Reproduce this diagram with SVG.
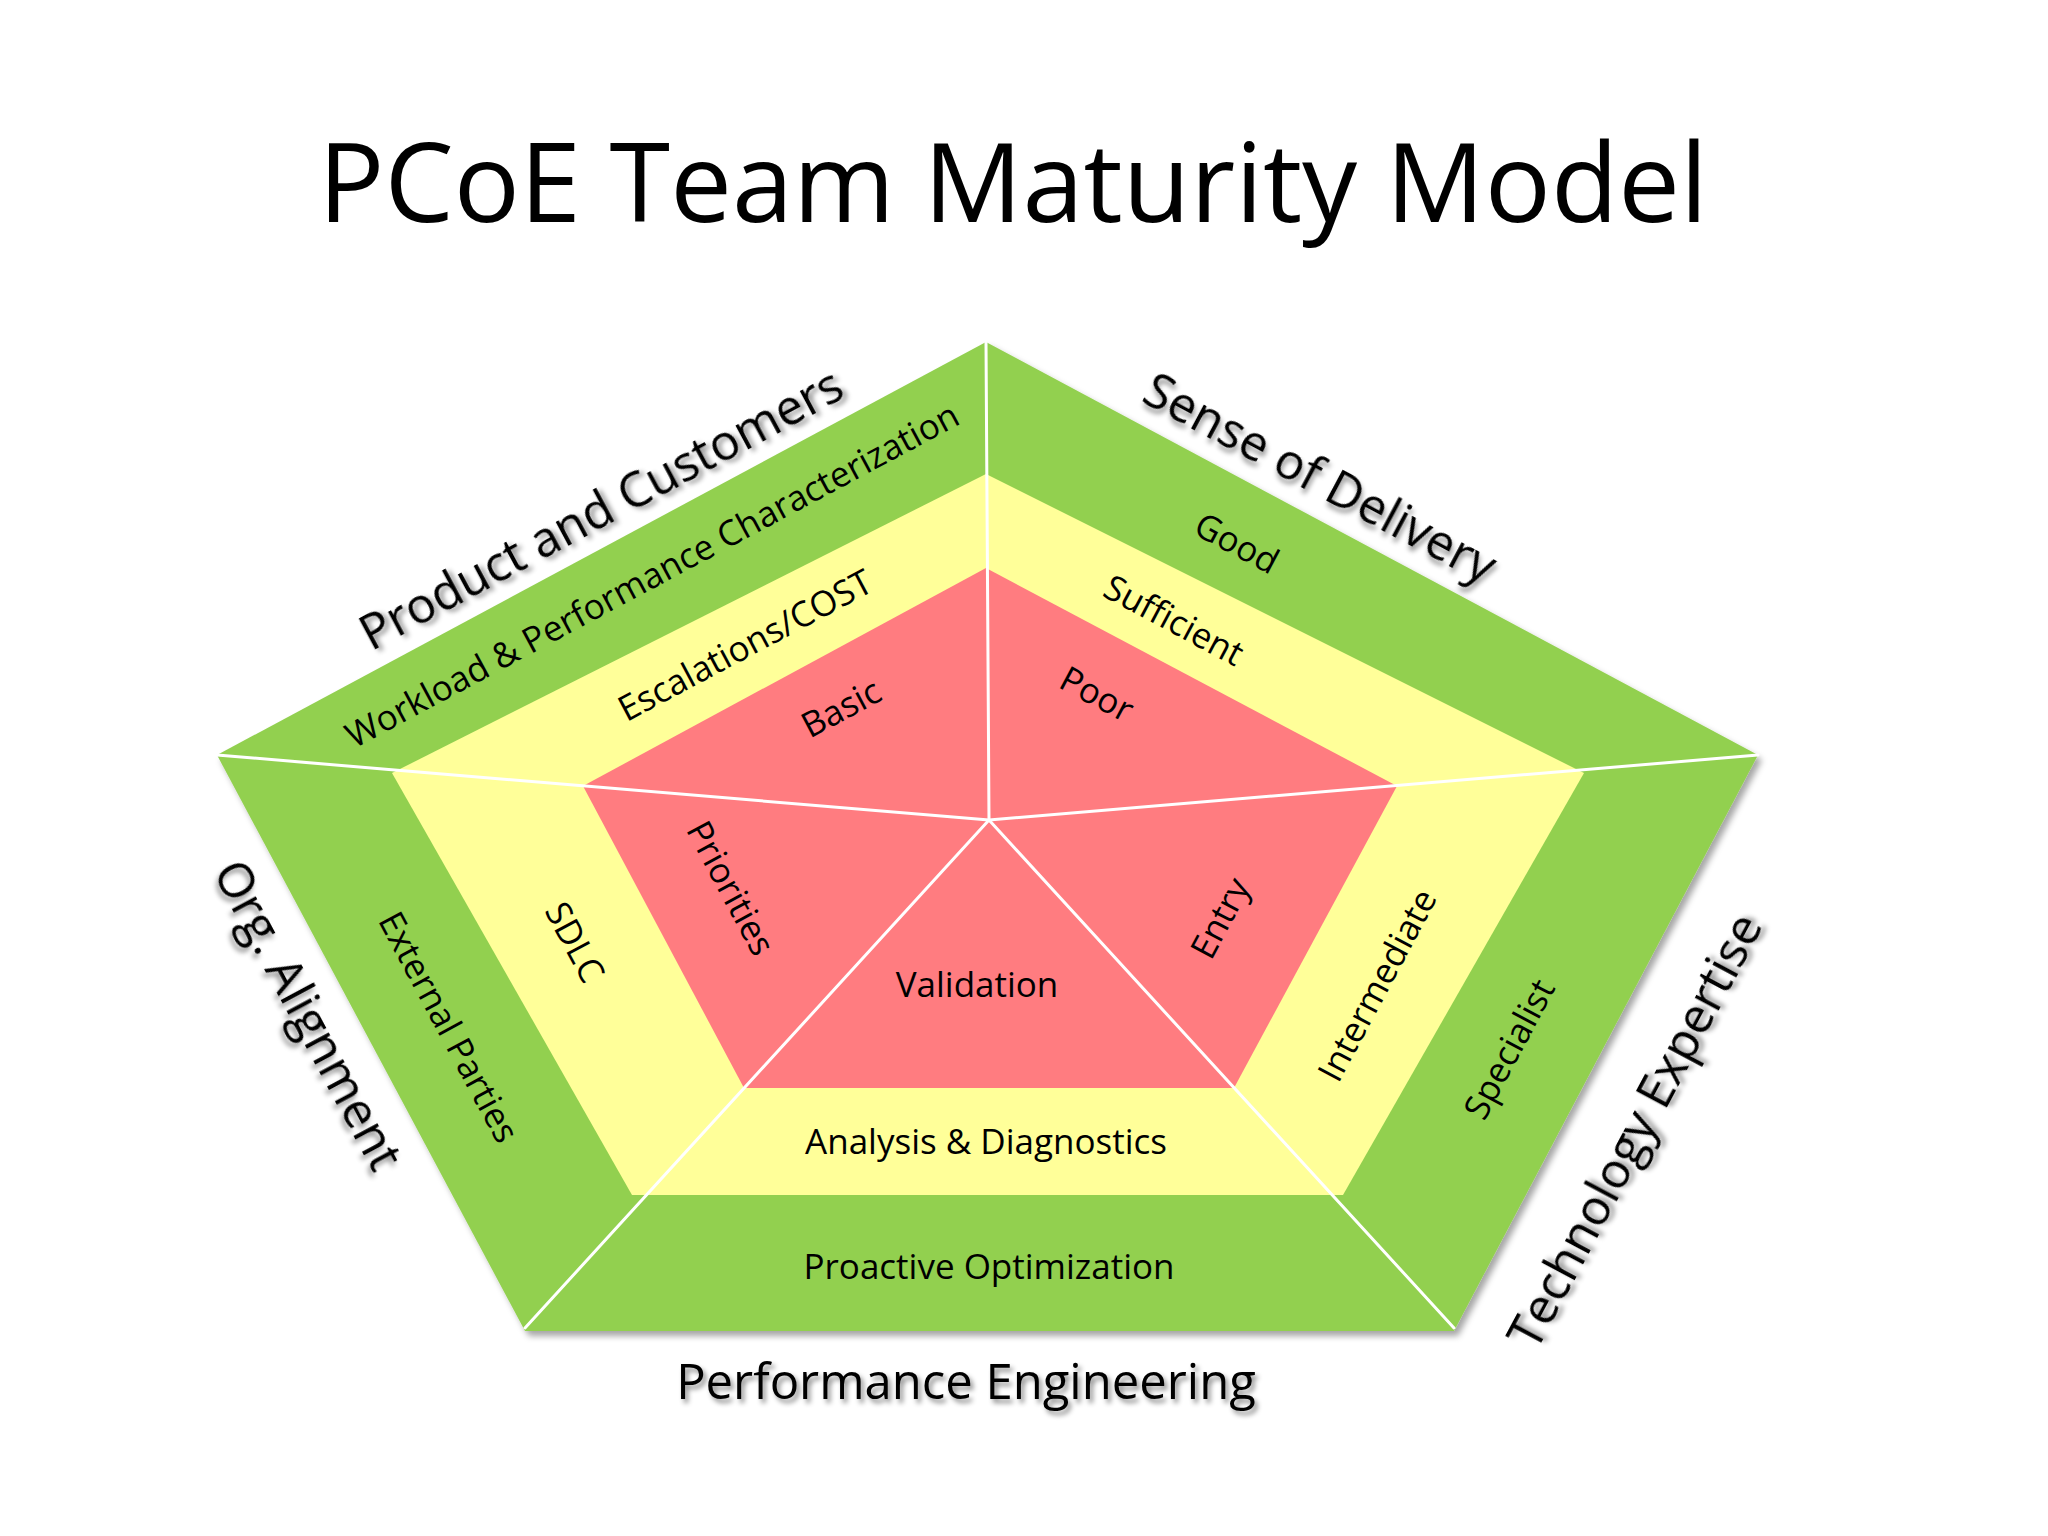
<svg xmlns="http://www.w3.org/2000/svg" width="2048" height="1536" viewBox="0 0 2048 1536">
  <defs>
    <filter id="shapeShadow" x="-10%" y="-10%" width="120%" height="120%">
      <feDropShadow dx="4" dy="5" stdDeviation="3" flood-color="#000" flood-opacity="0.35"/>
    </filter>
    <filter id="textShadow" x="-10%" y="-30%" width="120%" height="160%">
      <feDropShadow dx="3" dy="4" stdDeviation="2.5" flood-color="#000" flood-opacity="0.45"/>
    </filter>
  </defs>
  <style>
    .t { font-family: "Open Sans", "Liberation Sans", sans-serif; fill: #000; text-anchor: middle; }
    .title { font-size: 110px; }
    .cat { font-size: 49px; }
    .lvl { font-size: 35px; }
    .green { fill: #92D050; }
    .yellow { fill: #FFFF99; }
    .red { fill: #FF7C80; }
    .div { stroke: #FFFFFF; stroke-width: 3; fill: none; stroke-linecap: round; }
  </style>
  <rect x="0" y="0" width="2048" height="1536" fill="#FFFFFF"/>

  <g id="title">
    <text class="t title" x="1013" y="222">PCoE Team Maturity Model</text>
  </g>

  <g id="ring-outer">
    <polygon class="green" filter="url(#shapeShadow)" points="986,342 1758,755 1454,1331 525,1331 217,755"/>
  </g>
  <g id="ring-middle">
    <polygon class="yellow" points="986,474 1584,773 1343,1195 632,1195 392,773"/>
  </g>
  <g id="ring-inner">
    <polygon class="red" points="986,568 1397,786 1234,1088 744,1088 583,786"/>
  </g>

  <g id="connectors">
    <line class="div" x1="989" y1="820" x2="986" y2="342"/>
    <line class="div" x1="989" y1="820" x2="1758" y2="755"/>
    <line class="div" x1="989" y1="820" x2="1454" y2="1328"/>
    <line class="div" x1="989" y1="820" x2="525" y2="1328"/>
    <line class="div" x1="989" y1="820" x2="217" y2="755"/>
  </g>

  <g id="axis-product-customers">
    <g transform="translate(601,509) rotate(-28.2)">
      <text class="t cat" filter="url(#textShadow)" x="0" y="17">Product and Customers</text>
    </g>
    <g transform="translate(652,575) rotate(-28.2)">
      <text class="t lvl" x="0" y="12.5">Workload &amp; Performance Characterization</text>
    </g>
    <g transform="translate(745,645) rotate(-28)">
      <text class="t lvl" x="0" y="12.5">Escalations/COST</text>
    </g>
    <g transform="translate(841,708) rotate(-28)">
      <text class="t lvl" x="0" y="12.5">Basic</text>
    </g>
  </g>

  <g id="axis-sense-of-delivery">
    <g transform="translate(1320,478) rotate(28.1)">
      <text class="t cat" filter="url(#textShadow)" x="0" y="17">Sense of Delivery</text>
    </g>
    <g transform="translate(1237,543) rotate(28.1)">
      <text class="t lvl" x="0" y="12.5">Good</text>
    </g>
    <g transform="translate(1174,620) rotate(28.1)">
      <text class="t lvl" x="0" y="12.5">Sufficient</text>
    </g>
    <g transform="translate(1097,694) rotate(28.1)">
      <text class="t lvl" x="0" y="12.5">Poor</text>
    </g>
  </g>

  <g id="axis-technology-expertise">
    <g transform="translate(1635,1131) rotate(-61.9)">
      <text class="t cat" filter="url(#textShadow)" x="0" y="17">Technology Expertise</text>
    </g>
    <g transform="translate(1509,1049) rotate(-61.9)">
      <text class="t lvl" x="0" y="12.5">Specialist</text>
    </g>
    <g transform="translate(1377,985) rotate(-61.9)">
      <text class="t lvl" x="0" y="12.5">Intermediate</text>
    </g>
    <g transform="translate(1220,918) rotate(-61.9)">
      <text class="t lvl" x="0" y="12.5">Entry</text>
    </g>
  </g>

  <g id="axis-performance-engineering">
    <text class="t cat" filter="url(#textShadow)" x="966" y="1399">Performance Engineering</text>
    <text class="t lvl" x="989" y="1279">Proactive Optimization</text>
    <text class="t lvl" x="986" y="1154">Analysis &amp; Diagnostics</text>
    <text class="t lvl" x="977" y="997">Validation</text>
  </g>

  <g id="axis-org-alignment">
    <g transform="translate(308,1015) rotate(61.8)">
      <text class="t cat" filter="url(#textShadow)" x="0" y="17">Org. Alignment</text>
    </g>
    <g transform="translate(449,1027) rotate(61.8)">
      <text class="t lvl" x="0" y="12.5">External Parties</text>
    </g>
    <g transform="translate(575,942) rotate(61.8)">
      <text class="t lvl" x="0" y="12.5">SDLC</text>
    </g>
    <g transform="translate(731,888) rotate(61.8)">
      <text class="t lvl" x="0" y="12.5">Priorities</text>
    </g>
  </g>
</svg>
